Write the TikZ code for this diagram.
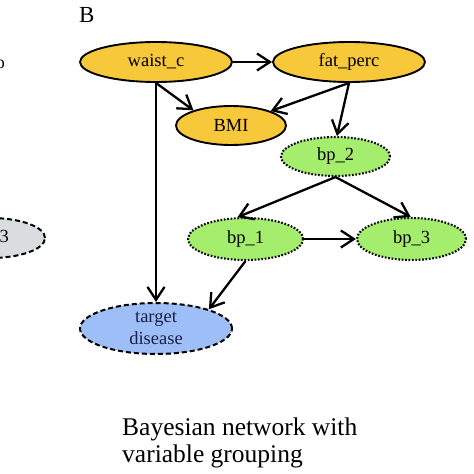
\documentclass[tikz,border=0pt]{standalone}
\usepackage{fontspec}
\setmainfont{Liberation Serif}
\usetikzlibrary{shapes.geometric,arrows.meta}
\definecolor{nodeyellow}{HTML}{F7C93A}
\definecolor{nodegreen}{HTML}{A5EE6D}
\definecolor{nodeblue}{HTML}{9DBEF6}
\definecolor{nodegrey}{HTML}{D9DDE0}
\definecolor{textnavy}{HTML}{1A1F4A}
\tikzset{
  varnode/.style={ellipse, inner sep=0pt, font=\fontsize{18.5}{20}\selectfont, text=black},
  yellownode/.style={varnode, fill=nodeyellow, draw=black, line width=1.9pt},
  greennode/.style={varnode, fill=nodegreen, draw=black, line width=2.1pt, dash pattern=on 1.7pt off 1.7pt},
  bluenode/.style={varnode, fill=nodeblue, draw=black, line width=2pt, dash pattern=on 5pt off 3pt, text=textnavy, align=center, font=\fontsize{18.5}{22}\selectfont},
  greynode/.style={varnode, fill=nodegrey, draw=black, line width=2pt, dash pattern=on 5pt off 3pt},
  edge/.style={line width=2.3pt, -{Straight Barb[length=13pt,width=17pt,line width=2.3pt]}},
  captiontext/.style={anchor=base west, inner sep=0pt, font=\fontsize{25.5}{27}\selectfont},
}
\begin{document}
\begin{tikzpicture}[x=1pt,y=-1pt]
\clip (0,0) rectangle (474,474);
\fill[white] (0,0) rectangle (474,474);
% fragments of panel A at the left edge
\node[anchor=base east, inner sep=0pt, font=\fontsize{18}{20}\selectfont] (afrag) at (5,68) {o};
\node[greynode, minimum width=109pt, minimum height=40pt] (abp3) at (-9.5,238) {bp\_3};
% panel label
\node[anchor=base west, inner sep=0pt, font=\fontsize{23}{25}\selectfont] (lblB) at (79,22) {B};
% nodes
\node[yellownode, minimum width=152pt, minimum height=40pt] (waist) at (156,62) {waist\_c};
\node[yellownode, minimum width=152pt, minimum height=40pt] (fat) at (349,62) {fat\_perc};
\node[yellownode, minimum width=110pt, minimum height=39pt] (bmi) at (231,125.5) {BMI};
\node[greennode, minimum width=109pt, minimum height=39pt] (bp2) at (335.5,156.5) {bp\_2};
\node[greennode, minimum width=115pt, minimum height=42pt] (bp1) at (245.5,239) {bp\_1};
\node[greennode, minimum width=109pt, minimum height=42pt] (bp3) at (411.5,239) {bp\_3};
\node[bluenode, minimum width=152pt, minimum height=51pt] (td) at (156,328.5) {target\\disease};
% edges
\draw[edge] (waist.east) -- (fat.west);
\draw[edge] (waist.south) -- (bmi.158);
\draw[edge] (fat.south) -- (bmi.20);
\draw[edge] (fat.south) -- (bp2.86);
\draw[edge] (waist.south) -- (td.north);
\draw[edge] (bp2.south) -- (bp1.110);
\draw[edge] (bp2.south) -- (bp3.92);
\draw[edge] (bp1.east) -- (bp3.west);
\draw[edge] (bp1.south) -- (td.20);
% caption
\node[captiontext] (cap1) at (122,435) {Bayesian network with};
\node[captiontext] (cap2) at (122,462) {variable grouping};
\end{tikzpicture}
\end{document}
